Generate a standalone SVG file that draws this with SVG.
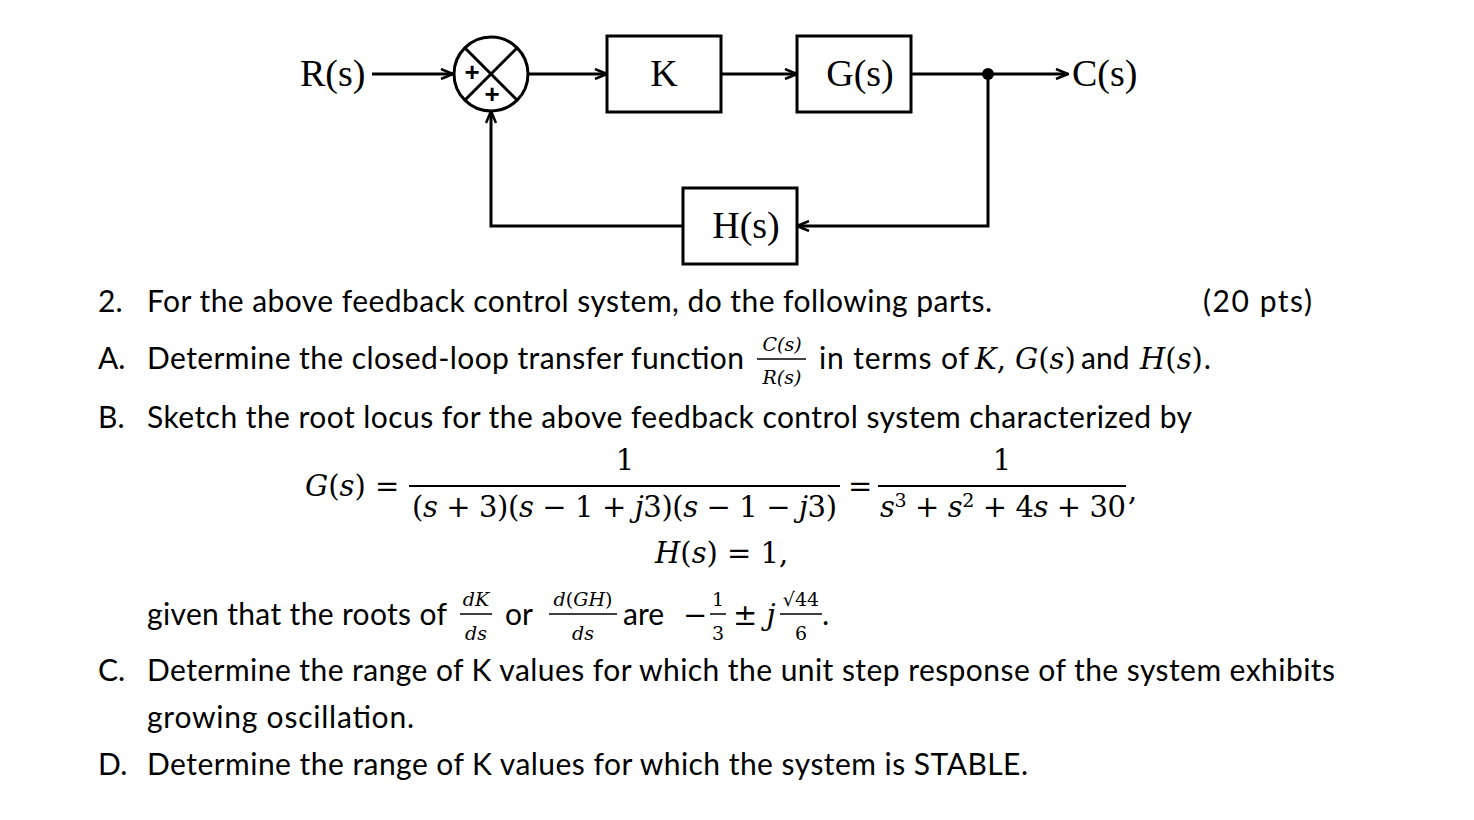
<svg xmlns="http://www.w3.org/2000/svg" width="1474" height="820" viewBox="0 0 1474 820">
<defs>
<marker id="ar" markerWidth="14" markerHeight="12" refX="13" refY="6" orient="auto" markerUnits="userSpaceOnUse"><path d="M1,1 L13,6 L1,11" fill="none" stroke="#000" stroke-width="2.5"/></marker>
<style>
.ln{stroke:#000;stroke-width:3;fill:none}
.bx{stroke:#000;stroke-width:3;fill:#fff}
.lb{font-family:"Liberation Serif",serif;font-size:38px;fill:#000}
.tx{font-family:Lato,"Open Sans",sans-serif;font-size:30px;fill:#000}
.m{font-family:"DejaVu Serif","Liberation Serif",serif;font-size:29px;fill:#000}
.mi{font-style:italic}
.sm{font-size:19px}
.pl{font-family:"Liberation Sans",sans-serif;font-weight:bold;font-size:26px;fill:#000}
</style>
</defs>
<rect width="1474" height="820" fill="#fff"/>
<g id="connectors">
<path class="ln" d="M372,74 H453" marker-end="url(#ar)"/>
<path class="ln" d="M528,74 H607" marker-end="url(#ar)"/>
<path class="ln" d="M721,74 H797" marker-end="url(#ar)"/>
<path class="ln" d="M911,74 H1068" marker-end="url(#ar)"/>
<circle cx="988" cy="74" r="6" fill="#000"/>
<path class="ln" d="M988,74 V226 H797" marker-end="url(#ar)"/>
<path class="ln" d="M683,226 H491 V111" marker-end="url(#ar)"/>
</g>
<g id="R"><text class="lb" x="300" y="86">R(s)</text></g>
<g id="sum">
<circle class="ln" cx="491" cy="74" r="37"/>
<path class="ln" d="M465,48 L517,100 M517,48 L465,100"/>
<text class="pl" x="472" y="81" text-anchor="middle">+</text>
<text class="pl" x="492" y="103" text-anchor="middle">+</text>
</g>
<g id="K"><rect class="bx" x="607" y="36" width="114" height="76"/><text class="lb" x="664" y="86" text-anchor="middle">K</text></g>
<g id="G"><rect class="bx" x="797" y="36" width="114" height="76"/><text class="lb" x="860" y="86" text-anchor="middle">G(s)</text></g>
<g id="C"><text class="lb" x="1072" y="86">C(s)</text></g>
<g id="H"><rect class="bx" x="683" y="188" width="114" height="76"/><text class="lb" x="746" y="238" text-anchor="middle">H(s)</text></g>
<g id="text">
<text class="tx" x="98" y="312">2.</text>
<text class="tx" x="147" y="312" textLength="845">For the above feedback control system, do the following parts.</text>
<text class="tx" x="1203" y="312" textLength="109">(20 pts)</text>
<text class="tx" x="98" y="369">A.</text>
<text class="tx" x="147" y="369" textLength="597">Determine the closed-loop transfer function</text>
<text class="m mi sm" x="782" y="351" text-anchor="middle">C(s)</text>
<line x1="757" y1="359" x2="806" y2="359" stroke="#000" stroke-width="1.5"/>
<text class="m mi sm" x="782" y="384" text-anchor="middle">R(s)</text>
<text class="tx" x="819" y="369" textLength="150">in terms of</text>
<text class="m" x="975" y="369"><tspan class="mi">K</tspan>, <tspan class="mi">G</tspan>(<tspan class="mi">s</tspan>) </text>
<text class="tx" x="1081" y="369">and</text>
<text class="m" x="1140" y="369"><tspan class="mi">H</tspan>(<tspan class="mi">s</tspan>).</text>
<text class="tx" x="98" y="428">B.</text>
<text class="tx" x="147" y="428" textLength="1045">Sketch the root locus for the above feedback control system characterized by</text>
<text class="m" x="305" y="496"><tspan class="mi">G</tspan>(<tspan class="mi">s</tspan>) =</text>
<text class="m" x="625" y="470" text-anchor="middle">1</text>
<line x1="409" y1="486" x2="840" y2="486" stroke="#000" stroke-width="2"/>
<text class="m" x="412" y="517" textLength="425">(<tspan class="mi">s</tspan> + 3)(<tspan class="mi">s</tspan> − 1 + <tspan class="mi">j</tspan>3)(<tspan class="mi">s</tspan> − 1 − <tspan class="mi">j</tspan>3)</text>
<text class="m" x="848" y="496">=</text>
<text class="m" x="1002" y="470" text-anchor="middle">1</text>
<line x1="878" y1="486" x2="1126" y2="486" stroke="#000" stroke-width="2"/>
<text class="m" x="880" y="517" textLength="246"><tspan class="mi">s</tspan><tspan dy="-10" font-size="19">3</tspan><tspan dy="10"> + </tspan><tspan class="mi">s</tspan><tspan dy="-10" font-size="19">2</tspan><tspan dy="10"> + 4</tspan><tspan class="mi">s</tspan> + 30</text>
<text class="m" x="1128" y="500">,</text>
<text class="m" x="655" y="563"><tspan class="mi">H</tspan>(<tspan class="mi">s</tspan>) = 1,</text>
<text class="tx" x="147" y="625" textLength="300">given that the roots of</text>
<text class="m mi sm" x="476" y="606" text-anchor="middle">dK</text>
<line x1="460" y1="614" x2="492" y2="614" stroke="#000" stroke-width="1.5"/>
<text class="m mi sm" x="476" y="640" text-anchor="middle">ds</text>
<text class="tx" x="505" y="625">or</text>
<text class="m sm" x="583" y="606" text-anchor="middle"><tspan class="mi">d</tspan>(<tspan class="mi">GH</tspan>)</text>
<line x1="549" y1="614" x2="617" y2="614" stroke="#000" stroke-width="1.5"/>
<text class="m mi sm" x="583" y="640" text-anchor="middle">ds</text>
<text class="tx" x="623" y="625">are</text>
<text class="m" x="683" y="625">−</text>
<text class="m sm" x="718" y="606" text-anchor="middle">1</text>
<line x1="710" y1="614" x2="726" y2="614" stroke="#000" stroke-width="1.5"/>
<text class="m sm" x="718" y="640" text-anchor="middle">3</text>
<text class="m" x="733" y="625">± <tspan class="mi">j</tspan></text>
<text class="m sm" x="801" y="606" text-anchor="middle">√44</text>
<line x1="780" y1="614" x2="822" y2="614" stroke="#000" stroke-width="1.5"/>
<text class="m sm" x="801" y="640" text-anchor="middle">6</text>
<text class="m" x="821" y="625">.</text>
<text class="tx" x="98" y="681">C.</text>
<text class="tx" x="147" y="681" textLength="1188">Determine the range of K values for which the unit step response of the system exhibits</text>
<text class="tx" x="147" y="728" textLength="267">growing oscillation.</text>
<text class="tx" x="98" y="775">D.</text>
<text class="tx" x="147" y="775" textLength="881">Determine the range of K values for which the system is STABLE.</text>
</g>
</svg>
